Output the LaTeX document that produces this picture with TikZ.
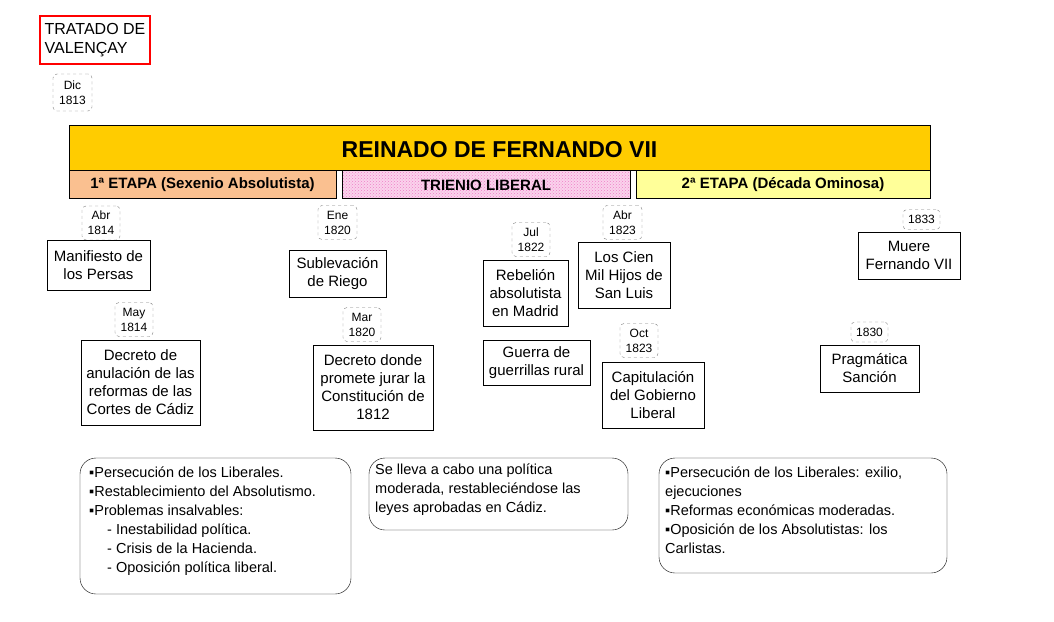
\documentclass[tikz,border=0pt]{standalone}
\usepackage{fontspec}
\setmainfont{Liberation Sans}
\usetikzlibrary{patterns}
\definecolor{gold}{HTML}{FFCC00}
\definecolor{peach}{HTML}{FAC090}
\definecolor{lyell}{HTML}{FFFF99}
\definecolor{pinkp}{HTML}{F080C8}
\tikzset{
  x=1pt,y=-1pt,
  ev/.style={draw,thick,align=center,font=\fontsize{15}{18}\selectfont,inner sep=2pt},
  dt/.style={draw=gray,dashed,rounded corners=4pt,align=center,font=\fontsize{12}{15}\selectfont,inner sep=2pt},
  note/.style={draw,rounded corners=16pt,align=left,font=\fontsize{14.5}{19}\selectfont,anchor=north west,inner sep=0pt},
}
\newcommand{\evbox}[4]{\node[ev,minimum width=#2pt] (#1) at (#3) {#4};}
\begin{document}
\begin{tikzpicture}
\useasboundingbox (0,0) rectangle (1054,621);
\fill[white] (0,0) rectangle (1054,621);
\node[draw=red,line width=2pt,minimum width=110pt,minimum height=48pt,align=left,font=\fontsize{16}{19}\selectfont,inner sep=3pt] (tv) at (95,40) {TRATADO DE\\VALENÇAY};
\node[dt,minimum width=39pt,minimum height=37pt] (d1) at (72.5,92.5) {Dic\\1813};
% bars
\draw[fill=gold,thick] (69,125) rectangle (930,170);
\node[font=\fontsize{23}{26}\selectfont\bfseries] (title) at (499.5,150) {REINADO DE FERNANDO VII};
\draw[fill=peach,thick] (69,170) rectangle (336,198);
\node[font=\fontsize{15}{18}\selectfont\bfseries] (e1) at (202.5,185) {1ª ETAPA (Sexenio Absolutista)};
\fill[pinkp!35] (342,170) rectangle (630,198);
\fill[pattern=crosshatch dots,pattern color=pinkp] (342,170) rectangle (630,198);
\draw[thick] (342,170) rectangle (630,198);
\node[font=\fontsize{15}{18}\selectfont\bfseries] (e2) at (486,185) {TRIENIO LIBERAL};
\draw[fill=lyell,thick] (636,170) rectangle (930,198);
\node[font=\fontsize{15}{18}\selectfont\bfseries] (e3) at (783,185) {2ª ETAPA (Década Ominosa)};
% dates
\node[dt,minimum width=38pt,minimum height=34pt] (a1) at (101,223) {Abr\\1814};
\node[dt,minimum width=38pt,minimum height=34pt] (a2) at (134,319.5) {May\\1814};
\node[dt,minimum width=39pt,minimum height=34pt] (a3) at (337.5,222.5) {Ene\\1820};
\node[dt,minimum width=38pt,minimum height=34pt] (a4) at (362,324.5) {Mar\\1820};
\node[dt,minimum width=38pt,minimum height=34pt] (a5) at (531,239.5) {Jul\\1822};
\node[dt,minimum width=39pt,minimum height=34pt] (a6) at (622.5,222.5) {Abr\\1823};
\node[dt,minimum width=38pt,minimum height=34pt] (a7) at (639,340.5) {Oct\\1823};
\node[dt,minimum width=37pt,minimum height=20pt] (a8) at (921.5,219.5) {1833};
\node[dt,minimum width=37pt,minimum height=20pt] (a9) at (869.5,332) {1830};
% events
\node[ev,minimum width=103pt,minimum height=50pt] (b1) at (98.5,265) {Manifiesto de\\los Persas};
\node[ev,minimum width=119pt,minimum height=85pt] (b2) at (140.5,382.5) {Decreto de\\anulación de las\\reformas de las\\Cortes de Cádiz};
\node[ev,minimum width=97pt,minimum height=47pt] (b3) at (337.5,273.5) {Sublevación\\de Riego};
\node[ev,minimum width=120pt,minimum height=85pt] (b4) at (373,387.5) {Decreto donde\\promete jurar la\\Constitución de\\1812};
\node[ev,minimum width=85pt,minimum height=66pt] (b5) at (525.5,293) {Rebelión\\absolutista\\en Madrid};
\node[ev,minimum width=107pt,minimum height=45pt] (b6) at (536.5,362.5) {Guerra de\\guerrillas rural};
\node[ev,minimum width=92pt,minimum height=66pt] (b7) at (624,275) {Los Cien\\Mil Hijos de\\San Luis};
\node[ev,minimum width=102pt,minimum height=66pt] (b8) at (653,395) {Capitulación\\del Gobierno\\Liberal};
\node[ev,minimum width=102pt,minimum height=47pt] (b9) at (909,255.5) {Muere\\Fernando VII};
\node[ev,minimum width=99pt,minimum height=47pt] (b10) at (869.5,368.5) {Pragmática\\Sanción};
% notes
\draw[rounded corners=16pt] (80,458) rectangle (351,594);
\node[anchor=north west,align=left,font=\fontsize{14.5}{19}\selectfont,inner sep=0pt] (n1) at (89,467) {▪Persecución de los Liberales.\\▪Restablecimiento del Absolutismo.\\▪Problemas insalvables:\\\hspace*{18pt}- Inestabilidad política.\\\hspace*{18pt}- Crisis de la Hacienda.\\\hspace*{18pt}- Oposición política liberal.};
\draw[rounded corners=16pt] (369,458) rectangle (628,530);
\node[anchor=north west,align=left,font=\fontsize{14.5}{19}\selectfont,inner sep=0pt] (n2) at (375,464) {Se lleva a cabo una política\\moderada, restableciéndose las\\leyes aprobadas en Cádiz.};
\draw[rounded corners=16pt] (659,458) rectangle (947,573);
\node[anchor=north west,align=left,font=\fontsize{14.5}{19}\selectfont,inner sep=0pt] (n3) at (665,467) {▪Persecución de los Liberales: exilio,\\ejecuciones\\▪Reformas económicas moderadas.\\▪Oposición de los Absolutistas: los\\Carlistas.};
\end{tikzpicture}
\end{document}
